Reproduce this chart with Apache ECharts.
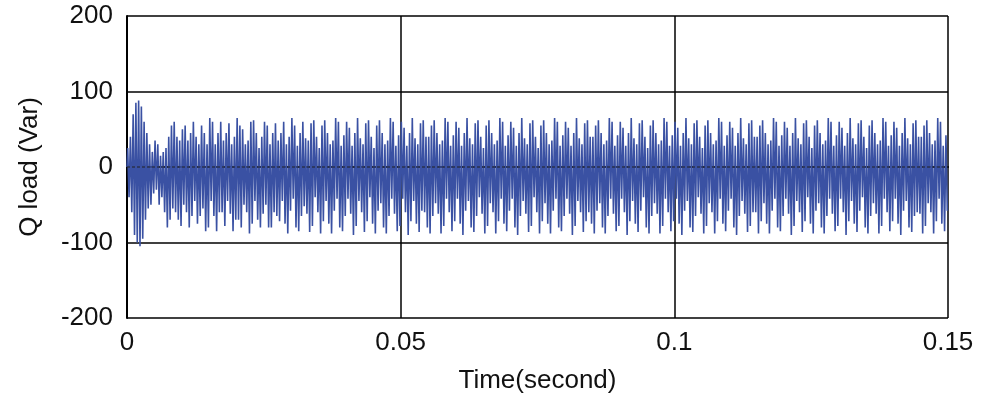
<!DOCTYPE html>
<html>
<head>
<meta charset="utf-8">
<script src="https://cdn.jsdelivr.net/npm/echarts@6/dist/echarts.min.js"></script>
<style>html,body{margin:0;padding:0;background:#fff}</style>
</head>
<body>
<div id="chart" style="width:985px;height:411px"></div>
<script>
// peak values (Var); A and B pairs alternate half cycles
var upperA = [25,70,88,60,30,35,15,25,55,40,50,35,60,30,45,65,30,60,45,30,65,50,35,62,25,60,30,58,45,30,65,28,60,35,62,25,62,30,65,28,60,28,65,30,62,25,62,30,65,28,60,28,65,30,62,40,62,30,65,28,60,28,65,30,62,25,62,30,65,28,60,28,65,30,62,25,62,30,65,28,60,28,65,30,62,40,62,30,65,28,60,28,65,30,62,25,62,30,65,28,60,28,65,30,62,25,62,30,65,28,60,28,65,30,62,40,62,30,65,28,60,28,65,30,62,25,62,30,65,28,60,28,65,30,62,25,62,30,65,28,60,28,65,30,62,40,62,30,65,28];
var lowerA = [-40,-90,-105,-70,-50,-30,-40,-80,-55,-70,-50,-80,-45,-65,-85,-45,-85,-60,-45,-85,-70,-50,-88,-45,-80,-50,-80,-65,-45,-88,-42,-85,-52,-86,-40,-88,-45,-88,-42,-85,-42,-90,-45,-86,-40,-88,-48,-88,-42,-85,-42,-90,-45,-86,-60,-88,-48,-88,-42,-85,-42,-90,-45,-86,-40,-88,-48,-88,-42,-85,-42,-90,-45,-86,-40,-88,-48,-88,-42,-85,-42,-90,-45,-86,-60,-88,-48,-88,-42,-85,-42,-90,-45,-86,-40,-88,-48,-88,-42,-85,-42,-90,-45,-86,-40,-88,-48,-88,-42,-85,-42,-90,-45,-86,-60,-88,-48,-88,-42,-85,-42,-90,-45,-86,-40,-88,-48,-88,-42,-85,-42,-90,-45,-86,-40,-88,-48,-88,-42,-85,-42,-90,-45,-86,-60,-88,-48,-88,-42,-85];
var upperB = [40,85,80,45,20,30,20,40,60,35,55,45,40,55,30,60,45,35,58,40,55,30,60,45,40,55,45,35,60,40,55,45,38,58,40,55,45,35,60,42,52,45,38,58,40,55,45,35,60,42,52,45,38,58,40,55,45,35,60,42,52,45,38,58,40,55,45,35,60,42,52,45,38,58,40,55,45,35,60,42,52,45,38,58,40,55,45,35,60,42,52,45,38,58,40,55,45,35,60,42,52,45,38,58,40,55,45,35,60,42,52,45,38,58,40,55,45,35,60,42,52,45,38,58,40,55,45,35,60,42,52,45,38,58,40,55,45,35,60,42,52,45,38,58,40,55,45,35,60,42];
var lowerB = [-60,-100,-95,-55,-35,-50,-60,-70,-60,-78,-60,-65,-75,-55,-80,-65,-60,-78,-62,-70,-80,-60,-75,-70,-62,-80,-60,-72,-75,-58,-80,-65,-62,-78,-60,-72,-75,-58,-80,-65,-62,-78,-60,-72,-75,-58,-80,-65,-62,-78,-60,-72,-75,-58,-80,-65,-62,-78,-60,-72,-75,-58,-80,-65,-62,-78,-60,-72,-75,-58,-80,-65,-62,-78,-60,-72,-75,-58,-80,-65,-62,-78,-60,-72,-75,-58,-80,-65,-62,-78,-60,-72,-75,-58,-80,-65,-62,-78,-60,-72,-75,-58,-80,-65,-62,-78,-60,-72,-75,-58,-80,-65,-62,-78,-60,-72,-75,-58,-80,-65,-62,-78,-60,-72,-75,-58,-80,-65,-62,-78,-60,-72,-75,-58,-80,-65,-62,-78,-60,-72,-75,-58,-80,-65,-62,-78,-60,-72,-75,-58];
var xTicks = [0, 0.05, 0.1, 0.15];
var yTicks = [-200, -100, 0, 100, 200];

var n = Math.min(upperA.length, lowerA.length, upperB.length, lowerB.length);
var step = 0.15 / (4 * n);
var data = [[0, 0]];
for (var i = 0; i < n; i++) {
    data.push([(4 * i + 0.5) * step, upperA[i]]);
    data.push([(4 * i + 1.5) * step, lowerA[i]]);
    data.push([(4 * i + 2.5) * step, upperB[i]]);
    data.push([(4 * i + 3.5) * step, lowerB[i]]);
}

var chart = echarts.init(document.getElementById('chart'));
var axisLine = { lineStyle: { color: '#000', width: 2 } };
var font = { fontFamily: 'Liberation Sans, Arial, sans-serif', fontSize: 26, color: '#111' };
chart.setOption({
    animation: false,
    grid: { left: 127, right: 37, top: 16, bottom: 93 },
    xAxis: {
        type: 'value', min: 0, max: 0.15, interval: 0.05,
        name: 'Time(second)', nameLocation: 'middle', nameGap: 50,
        nameTextStyle: font,
        axisLine: axisLine, axisTick: { show: false },
        axisLabel: Object.assign({ margin: 12, formatter: function (v) { return String(+v.toFixed(2)); } }, font),
        splitLine: { lineStyle: { color: '#000', width: 1.5 } }
    },
    yAxis: {
        type: 'value', min: -200, max: 200, interval: 100,
        name: 'Q load (Var)', nameLocation: 'middle', nameGap: 84,
        nameTextStyle: font,
        axisLine: axisLine, axisTick: { show: false },
        axisLabel: Object.assign({ margin: 14 }, font),
        splitLine: { lineStyle: { color: '#000', width: 1.5 } }
    },
    series: [{
        type: 'line', data: data, symbol: 'none',
        lineStyle: { color: '#3a51a3', width: 1.6 }
    }, {
        type: 'line', data: [[0, 0], [0.15, 0]], symbol: 'none', z: 3,
        lineStyle: { color: '#222', width: 1, type: [3, 2] }
    }]
});
</script>
</body>
</html>
